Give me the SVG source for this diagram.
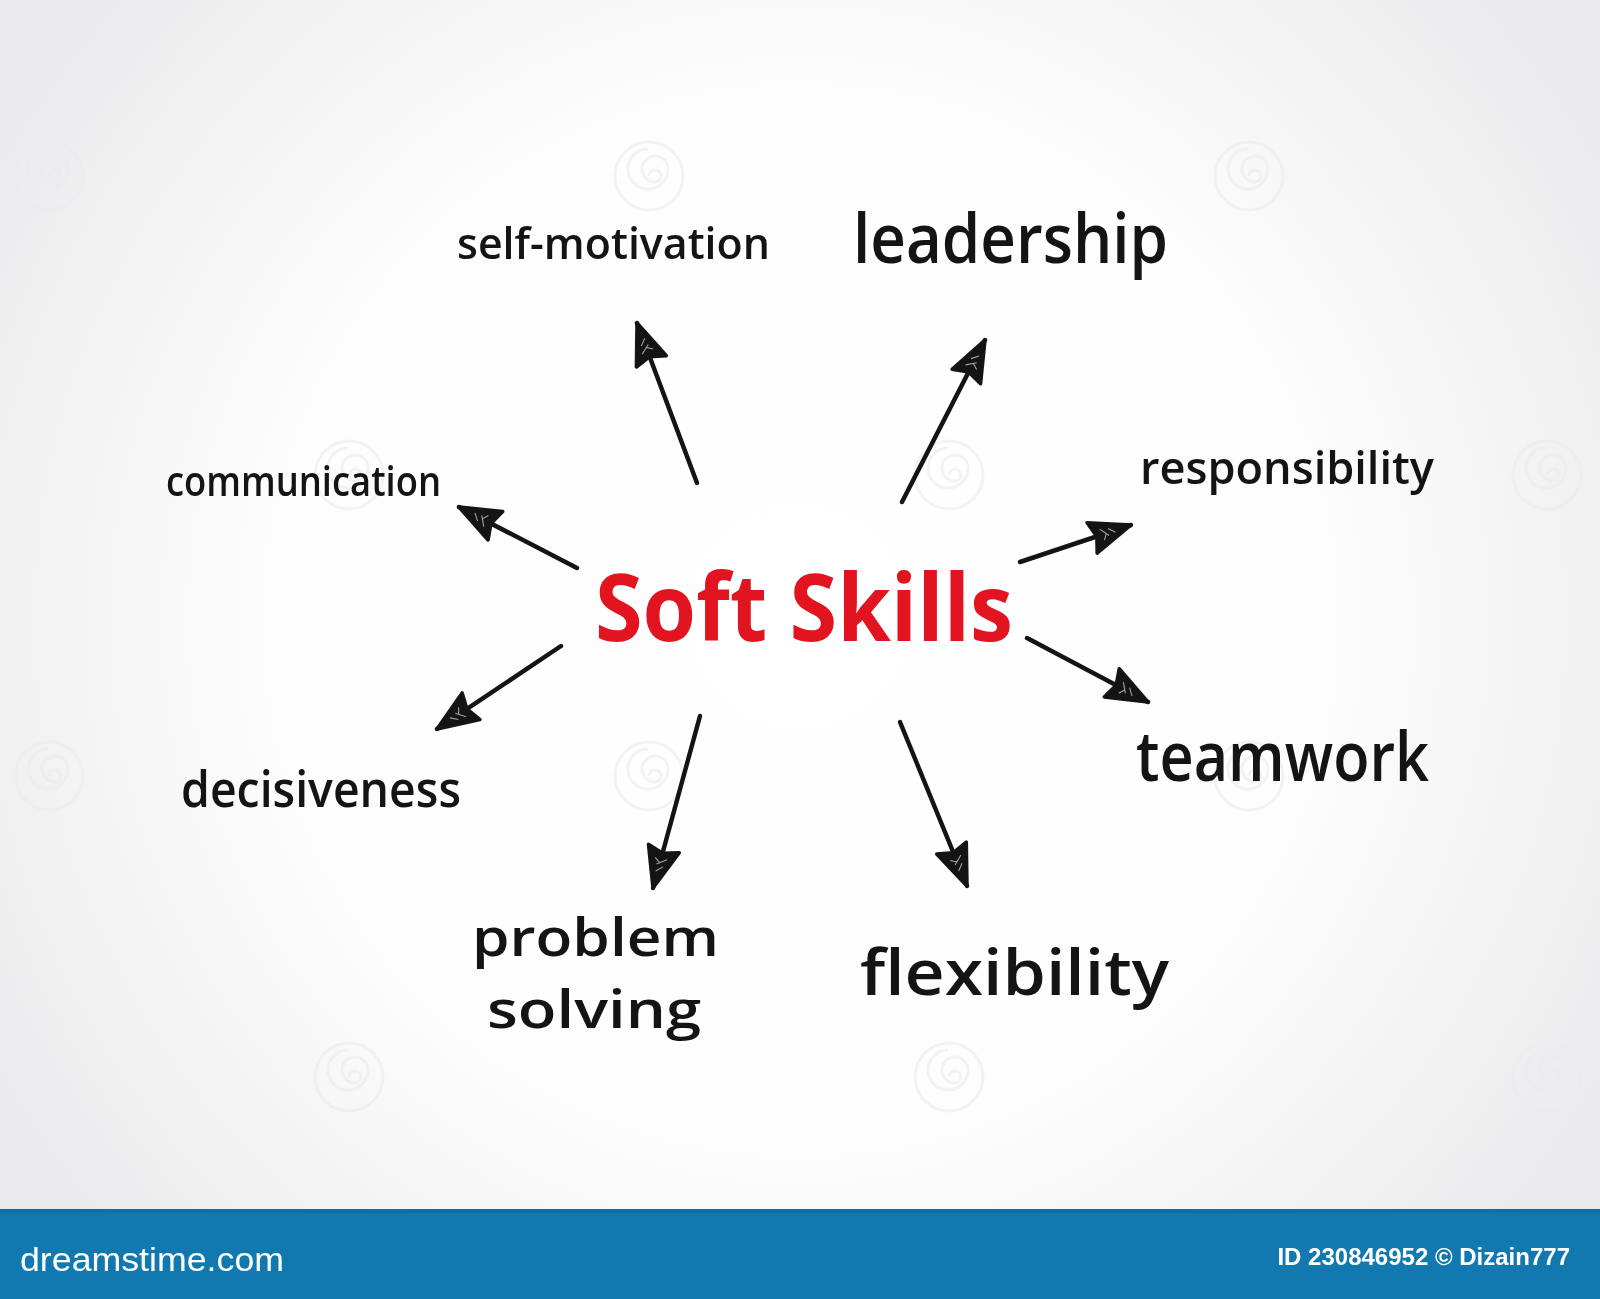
<svg xmlns="http://www.w3.org/2000/svg" width="1600" height="1299" viewBox="0 0 1600 1299">
  <defs>
    <radialGradient id="bg" cx="800" cy="620" r="950" gradientUnits="userSpaceOnUse">
      <stop offset="0" stop-color="#ffffff"/>
      <stop offset="0.55" stop-color="#fdfdfd"/>
      <stop offset="1" stop-color="#eaeaec"/>
    </radialGradient>
    <marker id="head" viewBox="-4 -22 50 44" refX="42" refY="0" markerWidth="50" markerHeight="44" markerUnits="userSpaceOnUse" orient="auto">
      <path d="M1,-16 L42,0 L1,16 L6,0 Z" fill="#141414" stroke="#141414" stroke-width="3.5" stroke-linejoin="round"/>
      <path d="M11,-6 L18,3 M19,-4 L25,2 M12,6 L16,0" stroke="#ffffff" stroke-width="1.1" fill="none" opacity="0.6"/>
    </marker>
    <g id="spiral">
      <circle r="34" fill="none" stroke="#ececee" stroke-width="3"/>
      <path d="M0,0 a6,6 0 1 1 6,6 a13,13 0 1 1 13,-13 a20,20 0 1 1 -20,-20" fill="none" stroke="#ececee" stroke-width="3"/>
    </g>
  </defs>
  <style>
    .lbl { font-family: "Open Sans", "Noto Sans", "DejaVu Sans", sans-serif; font-weight: 600; fill: #141414; }
    .title { font-family: "Open Sans", "Noto Sans", "DejaVu Sans", sans-serif; font-weight: 700; fill: #e2141f; }
    .conn { stroke: #141414; stroke-width: 4.5; fill: none; stroke-linecap: round; marker-end: url(#head); }
    .wm { font-family: "Liberation Sans", Arial, sans-serif; fill: #ffffff; }
  </style>

  <rect x="0" y="0" width="1600" height="1299" fill="url(#bg)"/>

  <g id="watermarks" opacity="0.6">
    <use href="#spiral" x="49" y="176"/>
    <use href="#spiral" x="649" y="176"/>
    <use href="#spiral" x="1249" y="176"/>
    <use href="#spiral" x="349" y="475"/>
    <use href="#spiral" x="949" y="475"/>
    <use href="#spiral" x="1547" y="475"/>
    <use href="#spiral" x="49" y="776"/>
    <use href="#spiral" x="649" y="776"/>
    <use href="#spiral" x="1249" y="776"/>
    <use href="#spiral" x="349" y="1077"/>
    <use href="#spiral" x="949" y="1077"/>
    <use href="#spiral" x="1547" y="1077"/>
  </g>

  <g id="connectors">
    <path class="conn" d="M697,483 L637,323"/>
    <path class="conn" d="M902,502 L985,340"/>
    <path class="conn" d="M577,568 L459,507"/>
    <path class="conn" d="M1020,562 L1131,525"/>
    <path class="conn" d="M1027,638 L1148,702"/>
    <path class="conn" d="M561,646 L437,729"/>
    <path class="conn" d="M700,716 Q680,790 653,888"/>
    <path class="conn" d="M900,722 L967,886"/>
  </g>

  <g id="center">
    <text class="title" x="595" y="641" font-size="94" textLength="418" lengthAdjust="spacingAndGlyphs">Soft Skills</text>
  </g>
  <g id="self-motivation">
    <text class="lbl" x="457" y="259" font-size="44" textLength="313" lengthAdjust="spacingAndGlyphs">self-motivation</text>
  </g>
  <g id="leadership">
    <text class="lbl" x="853" y="263" font-size="68" textLength="315" lengthAdjust="spacingAndGlyphs">leadership</text>
  </g>
  <g id="communication">
    <text class="lbl" x="166" y="496" font-size="42" textLength="275" lengthAdjust="spacingAndGlyphs">communication</text>
  </g>
  <g id="responsibility">
    <text class="lbl" x="1140" y="484" font-size="46" textLength="294" lengthAdjust="spacingAndGlyphs">responsibility</text>
  </g>
  <g id="decisiveness">
    <text class="lbl" x="181" y="807" font-size="50" textLength="280" lengthAdjust="spacingAndGlyphs">decisiveness</text>
  </g>
  <g id="teamwork">
    <text class="lbl" x="1136" y="781" font-size="68" textLength="293" lengthAdjust="spacingAndGlyphs">teamwork</text>
  </g>
  <g id="problem-solving">
    <text class="lbl" x="472" y="956" font-size="52" textLength="247" lengthAdjust="spacingAndGlyphs">problem</text>
    <text class="lbl" x="487" y="1028" font-size="52" textLength="214" lengthAdjust="spacingAndGlyphs">solving</text>
  </g>
  <g id="flexibility">
    <text class="lbl" x="860" y="995" font-size="64" textLength="309" lengthAdjust="spacingAndGlyphs">flexibility</text>
  </g>

  <g id="banner">
    <rect x="0" y="1209" width="1600" height="90" fill="#1178b0"/>
    <rect x="0" y="1209" width="1600" height="4" fill="#0f6ea3"/>
    <text class="wm" x="20" y="1271" font-size="34" textLength="264" lengthAdjust="spacingAndGlyphs">dreamstime.com</text>
    <text class="wm" x="1570" y="1265" font-size="24" font-weight="700" text-anchor="end">ID 230846952 © Dizain777</text>
  </g>
</svg>
